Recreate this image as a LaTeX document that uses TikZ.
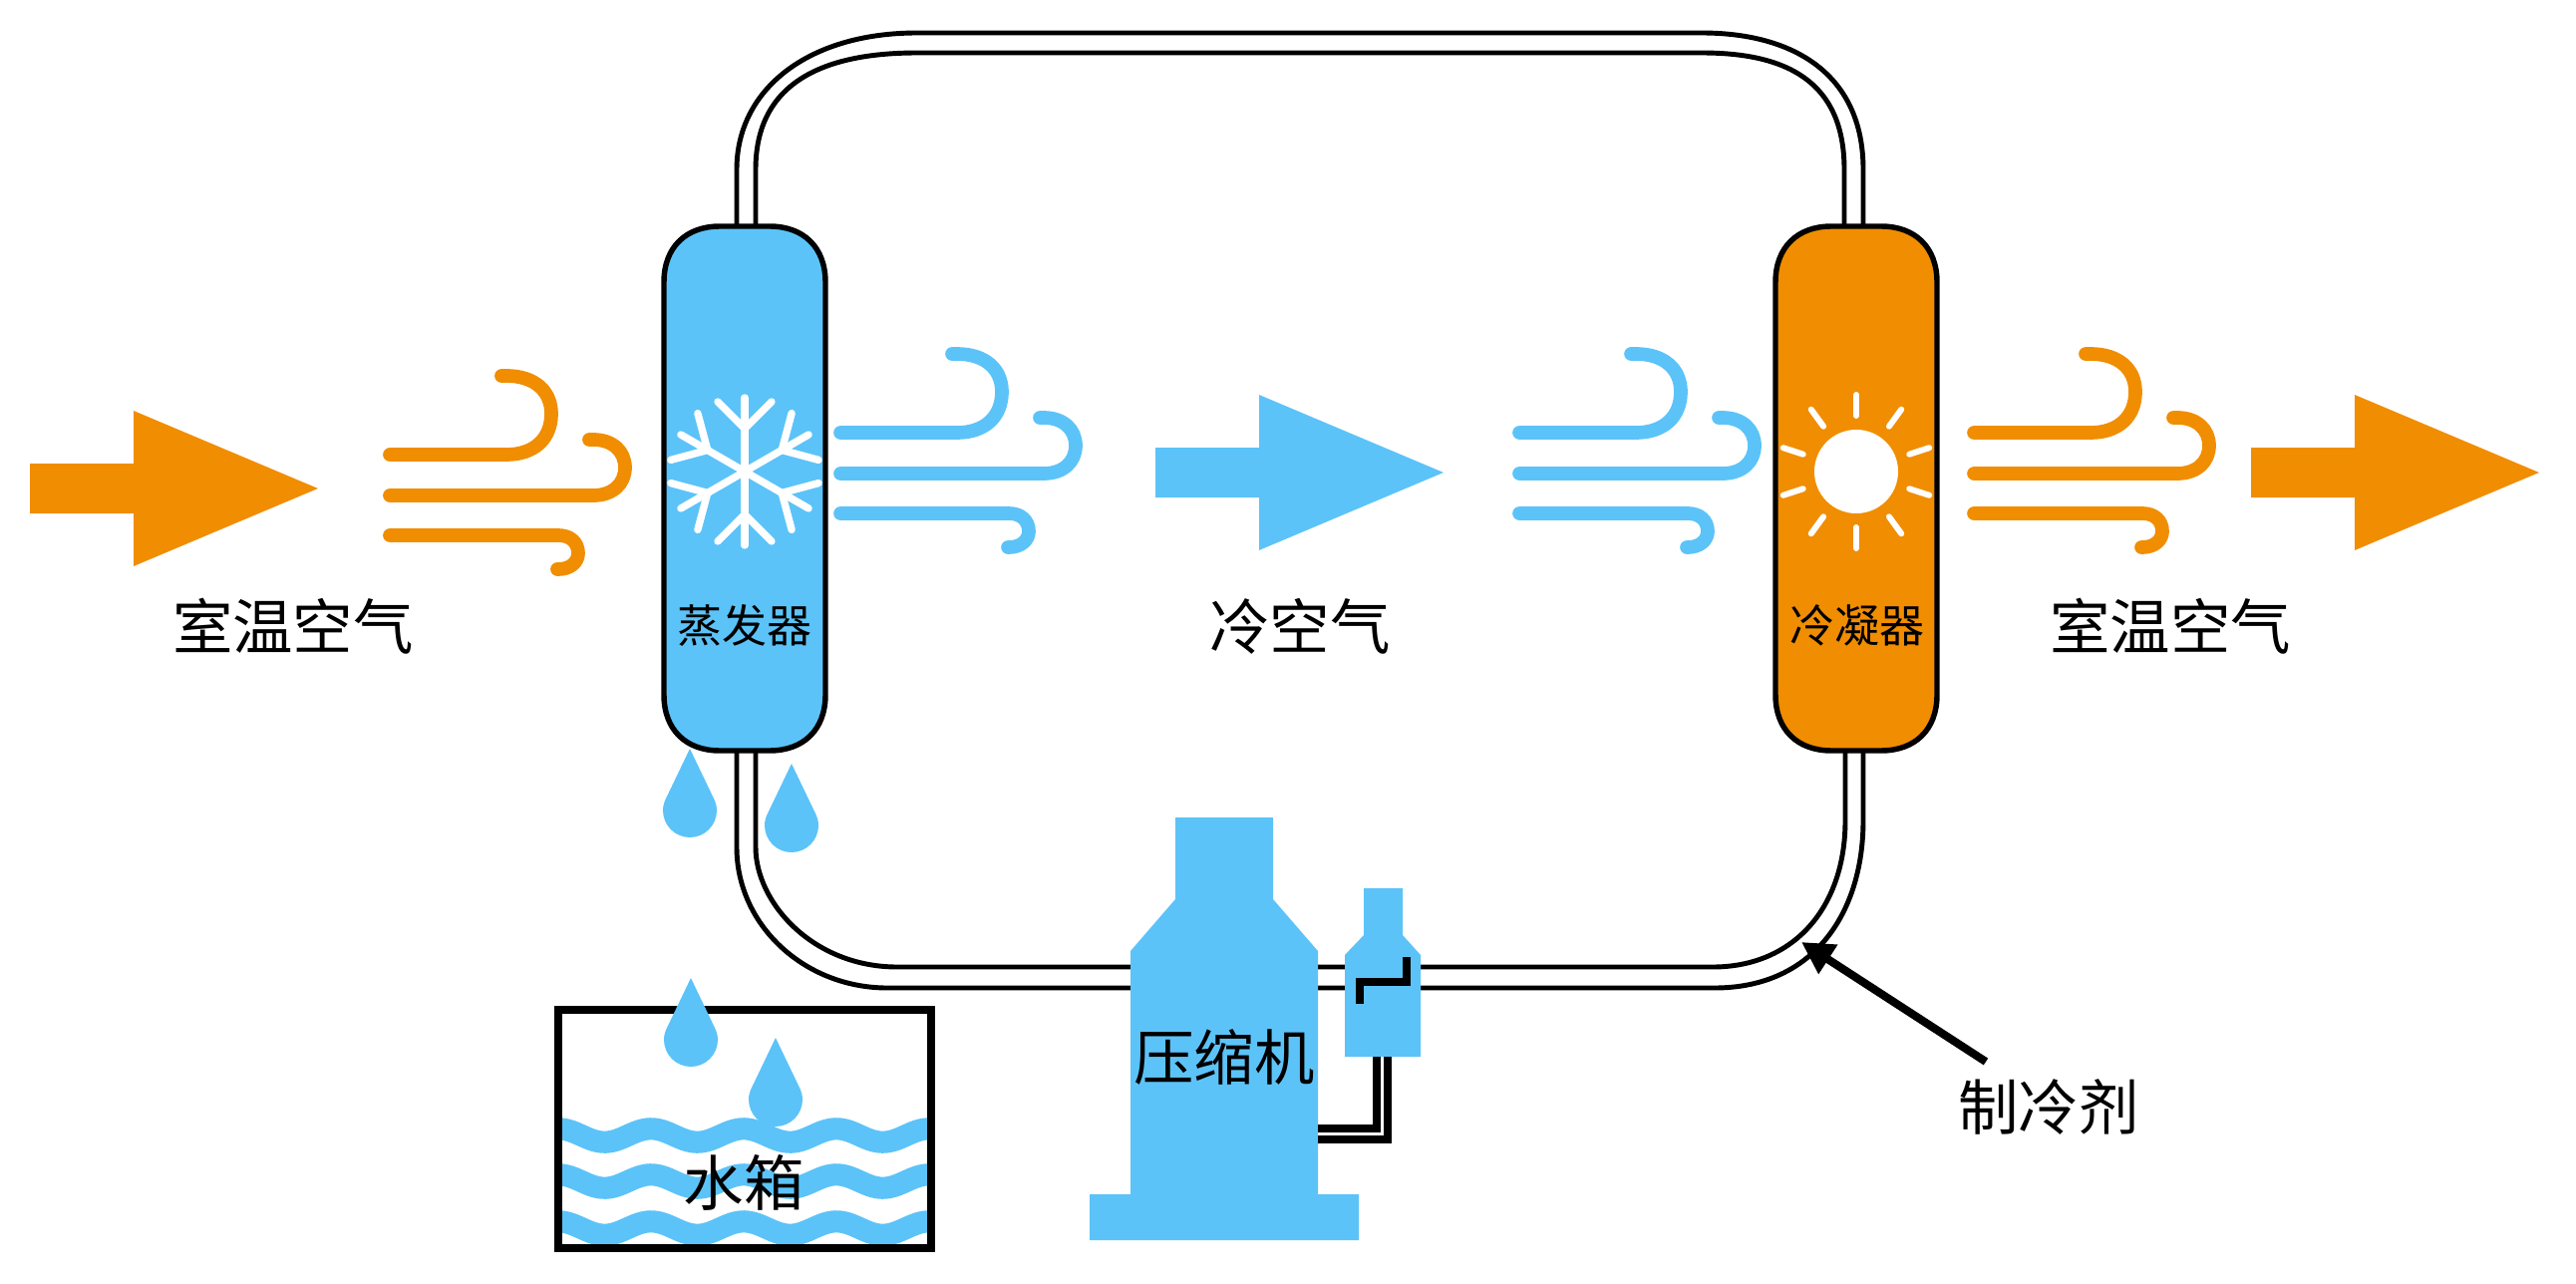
\documentclass[tikz,border=0pt]{standalone}
\usepackage{fontspec}
\usetikzlibrary{arrows.meta}
\setmainfont{Liberation Sans}
\newfontfamily\cjk{Noto Sans CJK SC}
\definecolor{iceblue}{HTML}{5CC3F8}
\definecolor{heatorange}{HTML}{F18D00}
\newcommand{\airflow}[3]{%
  \begin{scope}[shift={(#1,#2)},draw=#3,line width=3.9pt,line cap=round,line join=round]
    \draw (0,-41) -- (117,-41) .. controls (145,-41) and (162,-57) .. (162,-82)
          .. controls (162,-105) and (145,-120) .. (117,-120) -- (112,-120);
    \draw (0,0) -- (204,0) .. controls (224,0) and (236,-12) .. (236,-28)
          .. controls (236,-44) and (224,-56) .. (204,-56) -- (200,-56);
    \draw (0,40) -- (169,40) .. controls (181,40) and (189,47) .. (189,58)
          .. controls (189,67) and (181,74) .. (169,74) -- (168,74);
  \end{scope}}
\newcommand{\waterdrop}[2]{%
  \fill[iceblue,shift={(#1,#2)}] (0,0) -- (-24,50) .. controls (-26,54) and (-27,58) .. (-27,62)
    arc[start angle=180,end angle=0,radius=27]
    .. controls (27,58) and (26,54) .. (24,50) -- cycle;}
\newcommand{\capsule}[5]{% left right top bottom fill
  \draw[line width=1.55pt,fill=#5] (#1,#3+56) .. controls (#1,#3+21) and (#1+22,#3) .. (#1+56,#3)
    -- (#2-56,#3) .. controls (#2-22,#3) and (#2,#3+21) .. (#2,#3+56)
    -- (#2,#4-56) .. controls (#2,#4-21) and (#2-22,#4) .. (#2-56,#4)
    -- (#1+56,#4) .. controls (#1+22,#4) and (#1,#4-21) .. (#1,#4-56) -- cycle;}
\tikzset{
  tube/.style={line width=1.4pt,draw=black},
  labelbig/.style={font=\cjk\fontsize{17.2}{20}\selectfont,inner sep=0pt,text=black},
  labelsmall/.style={font=\cjk\fontsize{12.8}{15}\selectfont,inner sep=0pt,text=black},
  pipeline/.style={line width=2.3pt,draw=black,miter limit=10},
  glyph/.style={draw=white,line cap=round,line join=round}
}
\begin{document}
\begin{tikzpicture}[x=0.01cm,y=0.01cm,yscale=-1]
\useasboundingbox (0,0) rectangle (2584,1288);
% tube anchor points
\coordinate (evTopOut) at (739,227);
\coordinate (evTopIn) at (758,227);
\coordinate (evBotOut) at (739,753);
\coordinate (evBotIn) at (758,753);
\coordinate (coTopIn) at (1850,227);
\coordinate (coTopOut) at (1869,227);
\coordinate (coBotIn) at (1851,753);
\coordinate (coBotOut) at (1869,753);
% refrigerant tubes
\draw[tube] (evTopOut) -- (739,170) .. controls (739,90) and (810,33) .. (920,33) -- (1707,33)
   .. controls (1800,33) and (1869,75) .. (1869,170) -- (coTopOut);
\draw[tube] (evTopIn) -- (758,170) .. controls (758,90) and (815,53) .. (920,53) -- (1707,53)
   .. controls (1790,53) and (1850,80) .. (1850,170) -- (coTopIn);
\draw[tube] (evBotOut) -- (739,850) .. controls (739,928) and (807,991) .. (890,991) -- (1720,991)
   .. controls (1820,991) and (1869,915) .. (1869,823) -- (coBotOut);
\draw[tube] (evBotIn) -- (758,850) .. controls (758,905) and (815,970) .. (900,970) -- (1720,970)
   .. controls (1800,969) and (1851,910) .. (1851,823) -- (coBotIn);
% evaporator and condenser
\capsule{666}{828}{227}{753}{iceblue}
\capsule{1781}{1943}{227}{753}{heatorange}
\foreach \a in {0,60,...,300}{
  \begin{scope}[shift={(747,473)},rotate=\a]
    \draw[glyph,line width=2.1pt] (0,0) -- (0,-74);
    \draw[glyph,line width=2.1pt] (-27,-70) -- (0,-43) -- (27,-70);
  \end{scope}}
\fill[white] (1862,473) circle[radius=42];
\foreach \a in {90,54,18,-18,-54,-90,-126,-162,162,126}{
  \draw[glyph,line width=1.7pt] (1862,473) ++(\a:56) -- ++(\a:21);}
\node[labelsmall] (evapLabel) at (747,627) {蒸发器};
\node[labelsmall] (condLabel) at (1863,627) {冷凝器};
% air arrows
\fill[heatorange] (30,465) -- (134,465) -- (134,412) -- (319,490) -- (134,568) -- (134,515) -- (30,515) -- cycle;
\fill[iceblue] (1159,449) -- (1263,449) -- (1263,396) -- (1448,474) -- (1263,552) -- (1263,499) -- (1159,499) -- cycle;
\fill[heatorange] (2258,449) -- (2362,449) -- (2362,396) -- (2547,474) -- (2362,552) -- (2362,499) -- (2258,499) -- cycle;
% wind
\airflow{391}{497}{heatorange}
\airflow{843}{475}{iceblue}
\airflow{1524}{475}{iceblue}
\airflow{1980}{475}{heatorange}
% air labels
\node[labelbig] (roomL) at (294,628) {室温空气};
\node[labelbig] (cold) at (1304,628) {冷空气};
\node[labelbig] (roomR) at (2177,628) {室温空气};
% compressor
\fill[iceblue] (1179,820) -- (1277,820) -- (1277,902) -- (1322,954) -- (1322,1198) -- (1363,1198) -- (1363,1244)
   -- (1093,1244) -- (1093,1198) -- (1134,1198) -- (1134,954) -- (1179,902) -- cycle;
\node[labelbig] (compLabel) at (1228,1060) {压缩机};
% valve
\fill[iceblue] (1368,891) -- (1407,891) -- (1407,938) -- (1425,958) -- (1425,1060) -- (1349,1060) -- (1349,958) -- (1368,938) -- cycle;
\draw[pipeline] (1364,1007) -- (1364,985) -- (1411,985) -- (1411,960);
\coordinate (compA) at (1322,1132);
\coordinate (compB) at (1322,1143);
\coordinate (valveA) at (1381,1060);
\coordinate (valveB) at (1392,1060);
\draw[pipeline] (compA) -| (valveA);
\draw[pipeline] (compB) -| (valveB);
% water tank
\begin{scope}
  \clip (564,1017) rectangle (930,1248);
  \foreach \c in {1139,1185,1232}{
    \draw[iceblue,line width=6.3pt] plot[domain=540:950,samples=140] ({\x},{\c-6.7*cos(3.871*(\x-653))});}
\end{scope}
\draw[line width=2.3pt,black] (560,1013) rectangle (934,1252);
\node[labelbig] (tankLabel) at (746,1186) {水箱};
% drops
\waterdrop{692}{751}
\waterdrop{794}{766}
\waterdrop{693}{981}
\waterdrop{778}{1041}
% refrigerant callout
\node[labelbig] (refLabel) at (2055,1110) {制冷剂};
\coordinate (refStart) at (1992,1065);
\coordinate (refTip) at (1807,945);
\draw[line width=2.3pt,-{Triangle[length=9.1pt,width=9.4pt]}] (refStart) -- (refTip);
\end{tikzpicture}
\end{document}
